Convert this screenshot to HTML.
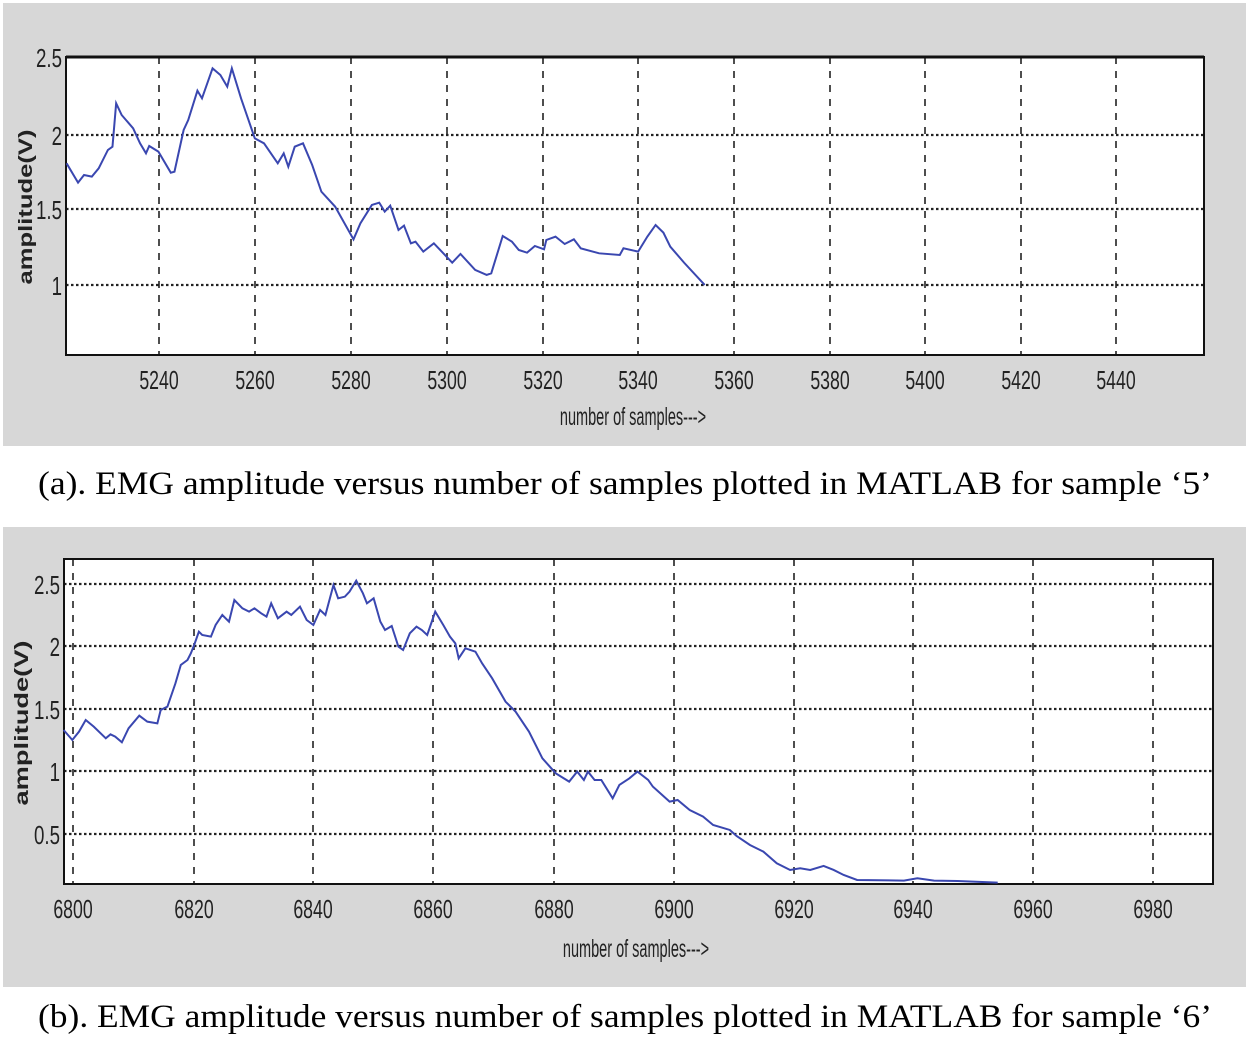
<!DOCTYPE html>
<html><head><meta charset="utf-8"><style>
html,body{margin:0;padding:0;background:#fff;width:1250px;height:1039px;overflow:hidden}
svg{display:block}
.t{font-family:"Liberation Sans Narrow","Liberation Sans",sans-serif;font-size:26px;fill:#222}
.c{font-family:"Liberation Serif",serif;font-size:33px;fill:#000}
</style></head><body>
<svg width="1250" height="1039" viewBox="0 0 1250 1039" xmlns="http://www.w3.org/2000/svg">
<!-- Panel A -->
<rect x="3" y="3" width="1243" height="443" fill="#d7d7d7"/>
<rect x="66" y="57" width="1138" height="298" fill="#fff"/>
<g stroke="#222" stroke-width="1.6" stroke-dasharray="7,7">
<line x1="159" y1="57" x2="159" y2="355"/><line x1="255" y1="57" x2="255" y2="355"/><line x1="351" y1="57" x2="351" y2="355"/><line x1="447" y1="57" x2="447" y2="355"/><line x1="543" y1="57" x2="543" y2="355"/><line x1="638" y1="57" x2="638" y2="355"/><line x1="734" y1="57" x2="734" y2="355"/><line x1="830" y1="57" x2="830" y2="355"/><line x1="925" y1="57" x2="925" y2="355"/><line x1="1021" y1="57" x2="1021" y2="355"/><line x1="1116" y1="57" x2="1116" y2="355"/>
</g>
<g stroke="#222" stroke-width="2.2" stroke-dasharray="2.5,2.5">
<line x1="66" y1="135" x2="1204" y2="135"/><line x1="66" y1="209" x2="1204" y2="209"/><line x1="66" y1="285" x2="1204" y2="285"/>
</g>
<rect x="66" y="57" width="1138" height="298" fill="none" stroke="#111" stroke-width="2"/>
<line x1="66" y1="57" x2="1204" y2="57" stroke="#111" stroke-width="3"/>
<g transform="translate(0,40) scale(0.4591,0.3333)">
<polyline fill="none" stroke="#3a47b0" stroke-width="2" vector-effect="non-scaling-stroke" points="145,370 170,428 183,405 200,410 215,385 235,330 245,320 253,190 265,225 290,265 305,310 318,340 325,318 345,335 372,398 380,395 400,270 410,240 430,152 440,175 463,85 480,105 495,140 505,85 525,175 555,295 575,310 605,370 618,340 628,380 642,320 660,310 680,375 700,455 730,500 770,598 785,550 810,495 826,488 838,515 850,497 868,570 880,557 895,610 905,605 922,635 945,610 985,668 1003,642 1035,690 1060,705 1070,700 1095,588 1115,605 1130,630 1148,638 1165,618 1185,628 1190,600 1210,590 1230,612 1250,598 1265,625 1305,640 1350,645 1358,625 1390,635 1410,590 1428,555 1445,578 1460,620 1490,668 1535,735"/>
</g>
<g class="t" text-anchor="end">
<text transform="translate(62,67) scale(0.72,1)">2.5</text>
<text transform="translate(62,145) scale(0.72,1)">2</text>
<text transform="translate(62,219) scale(0.72,1)">1.5</text>
<text transform="translate(62,295) scale(0.72,1)">1</text>
</g>
<g class="t" text-anchor="middle">
<text transform="translate(159,389) scale(0.68,1)">5240</text><text transform="translate(255,389) scale(0.68,1)">5260</text><text transform="translate(351,389) scale(0.68,1)">5280</text><text transform="translate(447,389) scale(0.68,1)">5300</text><text transform="translate(543,389) scale(0.68,1)">5320</text><text transform="translate(638,389) scale(0.68,1)">5340</text><text transform="translate(734,389) scale(0.68,1)">5360</text><text transform="translate(830,389) scale(0.68,1)">5380</text><text transform="translate(925,389) scale(0.68,1)">5400</text><text transform="translate(1021,389) scale(0.68,1)">5420</text><text transform="translate(1116,389) scale(0.68,1)">5440</text>
<text transform="translate(633,425) scale(0.58,1)" font-size="25">number of samples---&gt;</text>
</g>
<text transform="translate(32,207) rotate(-90)" text-anchor="middle" textLength="155" lengthAdjust="spacingAndGlyphs" font-family="Liberation Sans,sans-serif" font-size="19" font-weight="bold" fill="#222">amplitude(V)</text>
<text class="c" x="38" y="494" textLength="1174" lengthAdjust="spacingAndGlyphs">(a). EMG amplitude versus number of samples plotted in MATLAB for sample ‘5’</text>

<!-- Panel B -->
<rect x="3" y="527" width="1243" height="460" fill="#d7d7d7"/>
<rect x="64" y="559" width="1149" height="325" fill="#fff"/>
<g stroke="#222" stroke-width="1.6" stroke-dasharray="7,7">
<line x1="73" y1="559" x2="73" y2="884"/><line x1="194" y1="559" x2="194" y2="884"/><line x1="313" y1="559" x2="313" y2="884"/><line x1="433" y1="559" x2="433" y2="884"/><line x1="554" y1="559" x2="554" y2="884"/><line x1="674" y1="559" x2="674" y2="884"/><line x1="794" y1="559" x2="794" y2="884"/><line x1="913" y1="559" x2="913" y2="884"/><line x1="1033" y1="559" x2="1033" y2="884"/><line x1="1153" y1="559" x2="1153" y2="884"/>
</g>
<g stroke="#222" stroke-width="2.2" stroke-dasharray="2.5,2.5">
<line x1="64" y1="584" x2="1213" y2="584"/><line x1="64" y1="646" x2="1213" y2="646"/><line x1="64" y1="709" x2="1213" y2="709"/><line x1="64" y1="771" x2="1213" y2="771"/><line x1="64" y1="834" x2="1213" y2="834"/>
</g>
<rect x="64" y="559" width="1149" height="325" fill="none" stroke="#111" stroke-width="2"/>
<g transform="translate(0,550) scale(0.6696,0.3333)">
<polyline fill="none" stroke="#3a47b0" stroke-width="2" vector-effect="non-scaling-stroke" points="95,540 108,570 118,545 128,510 140,530 158,565 165,553 172,560 182,577 192,535 208,497 220,515 235,520 240,480 250,470 262,400 270,345 280,330 285,310 290,285 297,245 302,255 315,260 322,225 332,195 342,215 350,150 362,175 372,185 380,175 390,190 398,200 405,160 415,205 428,185 435,195 448,170 458,210 468,225 478,180 486,195 498,105 505,145 515,140 522,125 532,92 542,130 548,160 558,145 568,215 575,240 585,228 595,290 602,300 612,250 622,230 630,240 638,255 650,185 662,225 672,260 680,280 685,325 695,295 710,305 720,340 735,385 755,455 770,485 790,545 810,625 830,670 850,695 862,665 872,690 878,665 888,690 898,690 915,745 925,705 940,685 952,665 968,690 975,710 1000,755 1012,750 1030,780 1050,800 1065,825 1090,840 1100,858 1120,885 1140,905 1160,940 1180,960 1195,955 1210,960 1230,948 1245,960 1260,975 1280,990 1350,992 1370,985 1395,992 1430,993 1490,998"/>
</g>
<g class="t" text-anchor="end">
<text transform="translate(60,594) scale(0.72,1)">2.5</text>
<text transform="translate(60,656) scale(0.72,1)">2</text>
<text transform="translate(60,719) scale(0.72,1)">1.5</text>
<text transform="translate(60,781) scale(0.72,1)">1</text>
<text transform="translate(60,844) scale(0.72,1)">0.5</text>
</g>
<g class="t" text-anchor="middle">
<text transform="translate(73,918) scale(0.68,1)">6800</text><text transform="translate(194,918) scale(0.68,1)">6820</text><text transform="translate(313,918) scale(0.68,1)">6840</text><text transform="translate(433,918) scale(0.68,1)">6860</text><text transform="translate(554,918) scale(0.68,1)">6880</text><text transform="translate(674,918) scale(0.68,1)">6900</text><text transform="translate(794,918) scale(0.68,1)">6920</text><text transform="translate(913,918) scale(0.68,1)">6940</text><text transform="translate(1033,918) scale(0.68,1)">6960</text><text transform="translate(1153,918) scale(0.68,1)">6980</text>
<text transform="translate(636,957) scale(0.58,1)" font-size="25">number of samples---&gt;</text>
</g>
<text transform="translate(28,723) rotate(-90)" text-anchor="middle" textLength="165" lengthAdjust="spacingAndGlyphs" font-family="Liberation Sans,sans-serif" font-size="19" font-weight="bold" fill="#222">amplitude(V)</text>
<text class="c" x="38" y="1027" textLength="1174" lengthAdjust="spacingAndGlyphs">(b). EMG amplitude versus number of samples plotted in MATLAB for sample ‘6’</text>
</svg>
</body></html>
